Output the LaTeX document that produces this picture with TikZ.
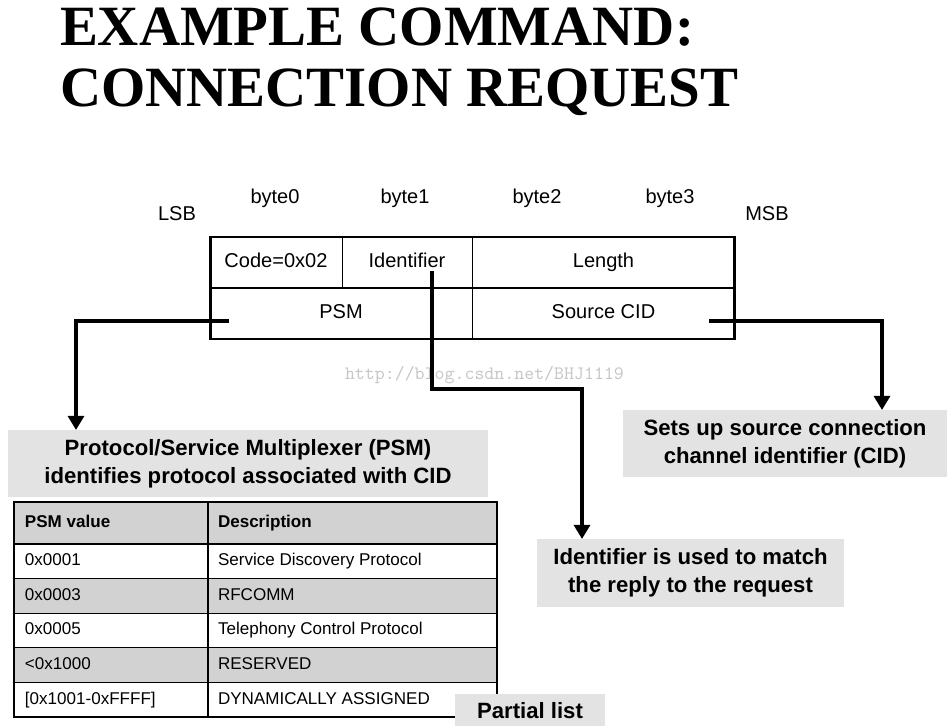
\documentclass[tikz,border=0pt]{standalone}
\usepackage{fontspec}
\setmainfont{Liberation Sans}
\newfontfamily\titlefont{Liberation Serif}
\usepackage{tikz}
\usetikzlibrary{arrows.meta}

\begin{document}
\begin{tikzpicture}[x=0.02cm, y=-0.02cm,
  every node/.style={inner sep=0pt, outer sep=0pt},
  ttl/.style={anchor=base west, font=\titlefont\bfseries\fontsize{32.4}{36}\selectfont},
  lbl/.style={text height=8.4pt, text depth=2.4pt, font=\fontsize{11.4}{13}\selectfont},
  cell/.style={draw, line width=0.5pt, minimum height=1.02cm, text height=8.4pt, text depth=2.4pt, font=\fontsize{11.4}{13}\selectfont},
  capbox/.style={fill=gray!22, align=center, font=\bfseries\fontsize{12.6}{16}\selectfont},
  tab/.style={anchor=west, text height=7pt, text depth=2pt, font=\fontsize{9.7}{11}\selectfont},
  conn/.style={line width=2.2pt, -{Triangle[length=8pt,width=9pt]}}]
\useasboundingbox (0,0) rectangle (950,726);

\node[ttl] (title1) at (60,46) {EXAMPLE COMMAND:};
\node[ttl] (title2) at (60,107) {CONNECTION REQUEST};

\node[lbl] (lsb) at (177,215) {LSB};
\node[lbl] (msb) at (767,215) {MSB};
\node[lbl] (b0) at (275,198) {byte0};
\node[lbl] (b1) at (405,198) {byte1};
\node[lbl] (b2) at (537,198) {byte2};
\node[lbl] (b3) at (670,198) {byte3};

\node[cell, minimum width=2.64cm] (code) at (276,262.5) {Code=0x02};
\node[cell, minimum width=2.6cm] (ident) at (407,262.5) {Identifier};
\node[cell, minimum width=5.26cm] (len) at (603.5,262.5) {Length};
\node[cell, minimum width=5.24cm] (psm) at (341,313.5) {PSM};
\node[cell, minimum width=5.26cm] (cid) at (603.5,313.5) {Source CID};
\draw[line width=1.1pt] (code.south west) -- (len.south east);
\draw[line width=1.7pt] (code.north west) rectangle (cid.south east);

\node[font=\ttfamily\fontsize{10.8}{12}\selectfont, text=black!22, anchor=west] (wm) at (345,375) {http://blog.csdn.net/BHJ1119};

\node[capbox, minimum width=9.6cm, minimum height=1.34cm] (psmcap) at (248,463.5) {Protocol/Service Multiplexer (PSM)\\identifies protocol associated with CID};
\node[capbox, minimum width=6.48cm, minimum height=1.34cm] (cidcap) at (785,443.5) {Sets up source connection\\channel identifier (CID)};
\node[capbox, minimum width=6.14cm, minimum height=1.36cm] (idcap) at (690.5,573) {Identifier is used to match\\the reply to the request};

\fill[gray!35] (14,502) rectangle (497,544);
\fill[gray!35] (14,578.6) rectangle (497,613.2);
\fill[gray!35] (14,647.8) rectangle (497,682.4);

\node[tab, font=\bfseries\fontsize{9.7}{11}\selectfont] (pv) at (25,523) {PSM value};
\node[tab, font=\bfseries\fontsize{9.7}{11}\selectfont] (desc) at (218,523) {Description};
\node[tab] (v1) at (25,561.3) {0x0001};
\node[tab] (d1) at (218,561.3) {Service Discovery Protocol};
\node[tab] (v2) at (25,595.9) {0x0003};
\node[tab] (d2) at (218,595.9) {RFCOMM};
\node[tab] (v3) at (25,630.5) {0x0005};
\node[tab] (d3) at (218,630.5) {Telephony Control Protocol};
\node[tab] (v4) at (25,665.1) {<0x1000};
\node[tab] (d4) at (218,665.1) {RESERVED};
\node[tab] (v5) at (25,699.7) {[0x1001-0xFFFF]};
\node[tab] (d5) at (218,699.7) {DYNAMICALLY ASSIGNED};

\draw[line width=0.8pt] (14,544) -- (497,544);
\draw[line width=0.6pt] (14,578.6) -- (497,578.6);
\draw[line width=0.6pt] (14,613.2) -- (497,613.2);
\draw[line width=0.6pt] (14,647.8) -- (497,647.8);
\draw[line width=0.6pt] (14,682.4) -- (497,682.4);
\draw[line width=0.8pt] (208,502) -- (208,717);
\draw[line width=1.2pt] (14,502) rectangle (497,717);

\node[capbox, minimum width=3cm, minimum height=0.68cm] (partcap) at (530,711) {Partial list};

\coordinate (psmsrc) at (229,321);
\coordinate (psmbend) at (76,321);
\coordinate (idsrc) at (432,271);
\coordinate (idbend) at (582,389);
\coordinate (cidsrc) at (709,321);
\coordinate (cidbend) at (882,321);

\draw[conn] (psmsrc) -| (psmbend |- psmcap.north);
\draw[conn] (idsrc) |- (idbend) -- (idbend |- idcap.north);
\draw[conn] (cidsrc) -| (cidbend |- cidcap.north);
\end{tikzpicture}
\end{document}
